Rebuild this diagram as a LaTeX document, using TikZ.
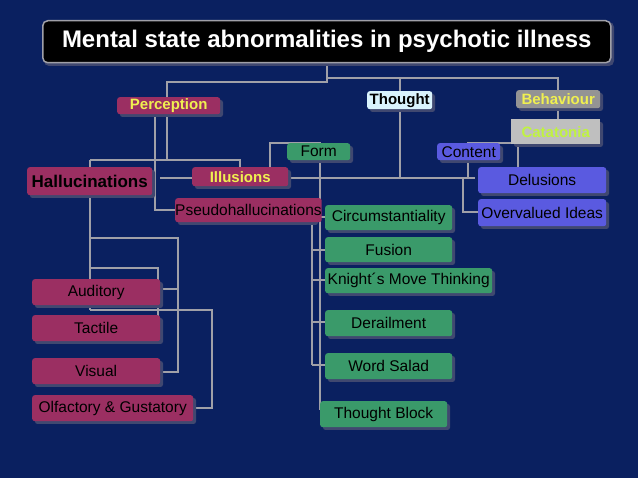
\documentclass[tikz,border=0pt]{standalone}
\usepackage{fontspec}
\setmainfont{Liberation Sans}
\begin{document}
\begin{tikzpicture}[x=1pt,y=-1pt,
  ln/.style={draw=lgray,line width=1.3pt}]
\definecolor{bg}{HTML}{0A2060}
\definecolor{mag}{HTML}{9B2F62}
\definecolor{grn}{HTML}{3A9A6A}
\definecolor{blu}{HTML}{5A5AE0}
\definecolor{lgray}{HTML}{A0A0A8}
\definecolor{yel}{HTML}{F0F050}
\definecolor{shd}{HTML}{404870}
\fill[bg] (0,0) rectangle (638,478);
\useasboundingbox (0,0) rectangle (638,478);
% connectors
\draw[ln] (327,64) -- (327,78) -- (558,78) -- (558,120);
\draw[ln] (327,64) -- (327,82) -- (167,82) -- (167,97);
\draw[ln] (400,78) -- (400,178);
\draw[ln] (160,178) -- (475,178);
\draw[ln] (167,114) -- (167,160);
\draw[ln] (90,160) -- (240,160) -- (240,167);
\draw[ln] (90,160) -- (90,167);
\draw[ln] (155,114) -- (155,210) -- (178,210);
\draw[ln] (90,195) -- (90,310);
\draw[ln] (90,238) -- (178,238) -- (178,372) -- (160,372);
\draw[ln] (90,268) -- (158,268) -- (158,320);
\draw[ln] (90,310) -- (212,310) -- (212,408) -- (193,408);
\draw[ln] (160,289) -- (178,289);
\draw[ln] (270,167) -- (270,143) -- (320,143) -- (320,410);
\draw[ln] (312,205) -- (312,365);
\foreach \yy in {217,250,280,322,365} \draw[ln] (312,\yy) -- (325,\yy);
\draw[ln] (312,205) -- (320,205);
\draw[ln] (511,143) -- (468,143) -- (468,178);
\draw[ln] (463,178) -- (463,212) -- (478,212);
\draw[ln] (518,144) -- (518,167);
% boxes
\fill[shd,rounded corners=5pt] (44,22) rectangle (614,66);
\node[draw=lgray,line width=1.5pt,fill=black,rounded corners=5pt,minimum width=568pt,minimum height=42pt,anchor=north west,text=white,font=\bfseries\fontsize{24}{27}\selectfont] (title) at (42,20) {Mental state abnormalities in psychotic illness};
\newcommand{\bb}[7]{% name x1 y1 x2 y2 style text
  \fill[shd,rounded corners=2.5pt] (#2+3,#3+3) rectangle (#4+3,#5+3);
  \node[rounded corners=2.5pt,inner sep=0pt,anchor=north west,minimum width=#4-#2,minimum height=#5-#3,font=\fontsize{15.5}{18}\selectfont,#6] (#1) at (#2,#3) {#7};}
\bb{perc}{117}{97}{220}{114}{fill=mag,text=yel,font=\bfseries\fontsize{15}{17}\selectfont}{Perception}
\bb{thought}{367}{91}{432}{109}{fill=cyan!15!white,text=black,font=\bfseries\fontsize{15}{17}\selectfont}{Thought}
\bb{beh}{516}{90}{600}{108}{fill=gray!80!black!70,text=yel,font=\bfseries\fontsize{15}{17}\selectfont}{Behaviour}
\bb{cat}{511}{119}{600}{144}{fill=gray!50,rounded corners=0pt,text=yel!80!green,font=\bfseries\fontsize{15}{17}\selectfont}{Catatonia}
\bb{form}{287}{143}{350}{160}{fill=grn}{Form}
\bb{content}{437}{143}{500}{160}{fill=blu}{Content}
\bb{hall}{27}{167}{152}{195}{fill=mag,text=black,font=\bfseries\fontsize{17}{20}\selectfont}{Hallucinations}
\bb{ill}{192}{167}{288}{186}{fill=mag,text=yel,font=\bfseries\fontsize{15}{17}\selectfont}{Illusions}
\bb{del}{478}{167}{606}{193}{fill=blu}{Delusions}
\bb{pseudo}{175}{198}{315}{222}{fill=mag}{Pseudohallucinations}
\bb{over}{478}{199}{606}{226}{fill=blu}{Overvalued Ideas}
\bb{circ}{325}{205}{452}{230}{fill=grn}{Circumstantiality}
\bb{fus}{325}{237}{452}{262}{fill=grn}{Fusion}
\bb{kn}{325}{268}{492}{293}{fill=grn}{Knight´s Move Thinking}
\bb{der}{325}{310}{452}{336}{fill=grn}{Derailment}
\bb{ws}{325}{353}{452}{379}{fill=grn}{Word Salad}
\bb{tb}{320}{401}{447}{427}{fill=grn}{Thought Block}
\bb{aud}{32}{279}{160}{305}{fill=mag}{Auditory}
\bb{tac}{32}{315}{160}{341}{fill=mag}{Tactile}
\bb{vis}{32}{358}{160}{384}{fill=mag}{Visual}
\bb{olf}{32}{395}{193}{421}{fill=mag}{Olfactory \& Gustatory}
\end{tikzpicture}
\end{document}
